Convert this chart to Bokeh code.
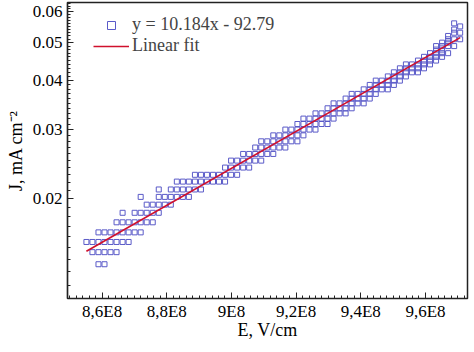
import math
from bokeh.plotting import figure
from bokeh.models import (Range1d, FixedTicker, Legend, LegendItem,
                          ColumnDataSource, PrintfTickFormatter)
from bokeh.embed import file_html
from bokeh.resources import INLINE

# ---- data ----
# electric field columns, in units of 1E8 V/cm
E_cols = [8.5515, 8.5701, 8.5888, 8.6074, 8.6261, 8.6447, 8.6634, 8.6820, 8.7006, 8.7193,
          8.7379, 8.7566, 8.7752, 8.7939, 8.8125, 8.8311, 8.8498, 8.8684, 8.8871, 8.9057,
          8.9243, 8.9430, 8.9616, 8.9803, 8.9989, 9.0176, 9.0362, 9.0548, 9.0735, 9.0921,
          9.1108, 9.1294, 9.1481, 9.1667, 9.1853, 9.2040, 9.2226, 9.2413, 9.2599, 9.2786,
          9.2972, 9.3158, 9.3345, 9.3531, 9.3718, 9.3904, 9.4090, 9.4277, 9.4463, 9.4650,
          9.4836, 9.5023, 9.5209, 9.5395, 9.5582, 9.5768, 9.5955, 9.6141, 9.6328, 9.6514,
          9.6700, 9.6887, 9.7073]
# current density values measured at each field column, mA/cm2
J_cols = [
    [0.0155],
    [0.0146, 0.0155],
    [0.0136, 0.0146, 0.0155, 0.0164],
    [0.0136, 0.0146, 0.0155, 0.0164],
    [0.0146, 0.0155, 0.0164],
    [0.0146, 0.0155, 0.0164, 0.0174],
    [0.0155, 0.0164, 0.0174, 0.0184],
    [0.0155, 0.0164, 0.0174],
    [0.0164, 0.0174, 0.0184],
    [0.0164, 0.0174, 0.0184, 0.0202],
    [0.0174, 0.0184, 0.0193],
    [0.0174, 0.0184, 0.0193],
    [0.0184, 0.0193, 0.0202, 0.0211],
    [0.0193, 0.0202],
    [0.0193, 0.0202, 0.0211],
    [0.0202, 0.0211, 0.0221],
    [0.0202, 0.0211, 0.0221],
    [0.0202, 0.0211, 0.0221],
    [0.0211, 0.0221, 0.0230],
    [0.0211, 0.0221, 0.0230],
    [0.0221, 0.0230],
    [0.0221, 0.0230],
    [0.0221, 0.0230],
    [0.0221, 0.0230, 0.0240],
    [0.0230, 0.0240, 0.0250],
    [0.0230, 0.0240, 0.0250],
    [0.0240, 0.0250, 0.0260],
    [0.0240, 0.0250, 0.0260],
    [0.0250, 0.0260, 0.0270],
    [0.0250, 0.0260, 0.0270, 0.0280],
    [0.0260, 0.0270, 0.0280],
    [0.0260, 0.0270, 0.0280, 0.0290],
    [0.0270, 0.0280, 0.0290],
    [0.0270, 0.0280, 0.0290, 0.0300],
    [0.0280, 0.0290, 0.0300],
    [0.0280, 0.0290, 0.0300, 0.0310],
    [0.0290, 0.0300, 0.0310, 0.0320],
    [0.0300, 0.0310, 0.0320],
    [0.0300, 0.0310, 0.0320, 0.0330],
    [0.0310, 0.0320, 0.0330],
    [0.0310, 0.0320, 0.0330, 0.0340],
    [0.0320, 0.0330, 0.0340, 0.0350],
    [0.0330, 0.0340, 0.0350],
    [0.0330, 0.0340, 0.0350, 0.0360],
    [0.0340, 0.0350, 0.0360, 0.0370],
    [0.0350, 0.0360, 0.0370],
    [0.0350, 0.0360, 0.0370, 0.0380],
    [0.0360, 0.0370, 0.0380, 0.0390],
    [0.0370, 0.0380, 0.0390, 0.0400],
    [0.0380, 0.0390, 0.0400],
    [0.0380, 0.0390, 0.0400, 0.0410],
    [0.0390, 0.0400, 0.0410, 0.0420],
    [0.0400, 0.0410, 0.0420, 0.0430],
    [0.0410, 0.0420, 0.0430, 0.0440],
    [0.0420, 0.0430, 0.0440],
    [0.0420, 0.0430, 0.0440, 0.0450],
    [0.0430, 0.0440, 0.0450, 0.0460],
    [0.0440, 0.0450, 0.0460, 0.0470],
    [0.0450, 0.0460, 0.0470, 0.0480, 0.0490],
    [0.0460, 0.0470, 0.0480, 0.0490, 0.0500],
    [0.0470, 0.0490, 0.0500, 0.0510, 0.0520],
    [0.0490, 0.0510, 0.0530, 0.0540, 0.0560],
    [0.0510, 0.0530, 0.0550],
]
# linear fit end points
fit_E = [8.5515, 9.7073]
fit_J = [0.01468, 0.0515]

x_ticks = [8.6, 8.8, 9.0, 9.2, 9.4, 9.6]
x_tick_labels = ["8,6E8", "8,8E8", "9E8", "9,2E8", "9,4E8", "9,6E8"]
y_ticks = [0.02, 0.03, 0.04, 0.05, 0.06]
x_title = "E, V/cm"
y_title = "J, mA cm\u207b\u00b2"
fit_label = "y = 10.184x - 92.79"
line_label = "Linear fit"

# ---- build ----
SCALE = 1e8
xs, ys = [], []
for e, js in zip(E_cols, J_cols):
    for j in js:
        xs.append(e * SCALE)
        ys.append(j)

FONT = "Liberation Serif"
W, H = 474, 352
p = figure(width=W, height=H, y_axis_type="log", output_backend="svg",
           toolbar_location=None,
           x_range=Range1d(8.493e8, 9.73e8), y_range=Range1d(0.01112, 0.0633),
           min_border_left=67, min_border_right=7, min_border_top=2, min_border_bottom=54)
p.background_fill_color = "white"
p.border_fill_color = "white"
p.outline_line_color = "#222222"
p.outline_line_width = 1.5
p.xgrid.visible = False
p.ygrid.visible = False

src = ColumnDataSource(dict(x=xs, y=ys))
sc = p.scatter("x", "y", source=src, marker="square", size=5,
               line_color="#5a5ac8", fill_color=None, line_width=1)
ln = p.line([e * SCALE for e in fit_E], fit_J, line_color="#d0102c", line_width=1.6)

# axes
xa = p.xaxis[0]
xa.ticker = FixedTicker(ticks=[t * SCALE for t in x_ticks],
                        minor_ticks=[8.5e8 + i * 2e6 for i in range(0, 120)])
xa.major_label_overrides = {t * SCALE: lab for t, lab in zip(x_ticks, x_tick_labels)}
ya = p.yaxis[0]
ya.ticker = FixedTicker(ticks=y_ticks,
                        minor_ticks=[round(0.011 + i * 0.001, 3) for i in range(0, 53)])
ya.formatter = PrintfTickFormatter(format="%.2f")
for ax in (xa, ya):
    ax.major_tick_in = 6
    ax.major_tick_out = 0
    ax.minor_tick_in = 3
    ax.minor_tick_out = 0
    ax.axis_line_color = "#222222"
    ax.axis_line_width = 1.2
    ax.major_tick_line_color = "#222222"
    ax.minor_tick_line_color = "#222222"
    ax.major_label_text_font = FONT
    ax.major_label_text_font_size = "17px"
    ax.major_label_text_color = "black"
    ax.major_label_standoff = 5
    ax.axis_label_text_font = FONT
    ax.axis_label_text_font_size = "18px"
    ax.axis_label_text_font_style = "normal"
    ax.axis_label_text_color = "black"
xa.major_label_standoff = 3
xa.axis_label = x_title
xa.axis_label_standoff = -4
ya.axis_label = y_title
ya.axis_label_standoff = 4

legend = Legend(items=[LegendItem(label=fit_label, renderers=[sc]),
                       LegendItem(label=line_label, renderers=[ln])],
                location=(26, 242), padding=0, margin=0, spacing=0,
                glyph_width=36, glyph_height=20, label_height=20, label_standoff=3,
                label_text_font=FONT, label_text_font_size="18px",
                border_line_color=None, background_fill_alpha=0)
p.add_layout(legend)

open("out.html", "w").write(file_html(p, INLINE))
